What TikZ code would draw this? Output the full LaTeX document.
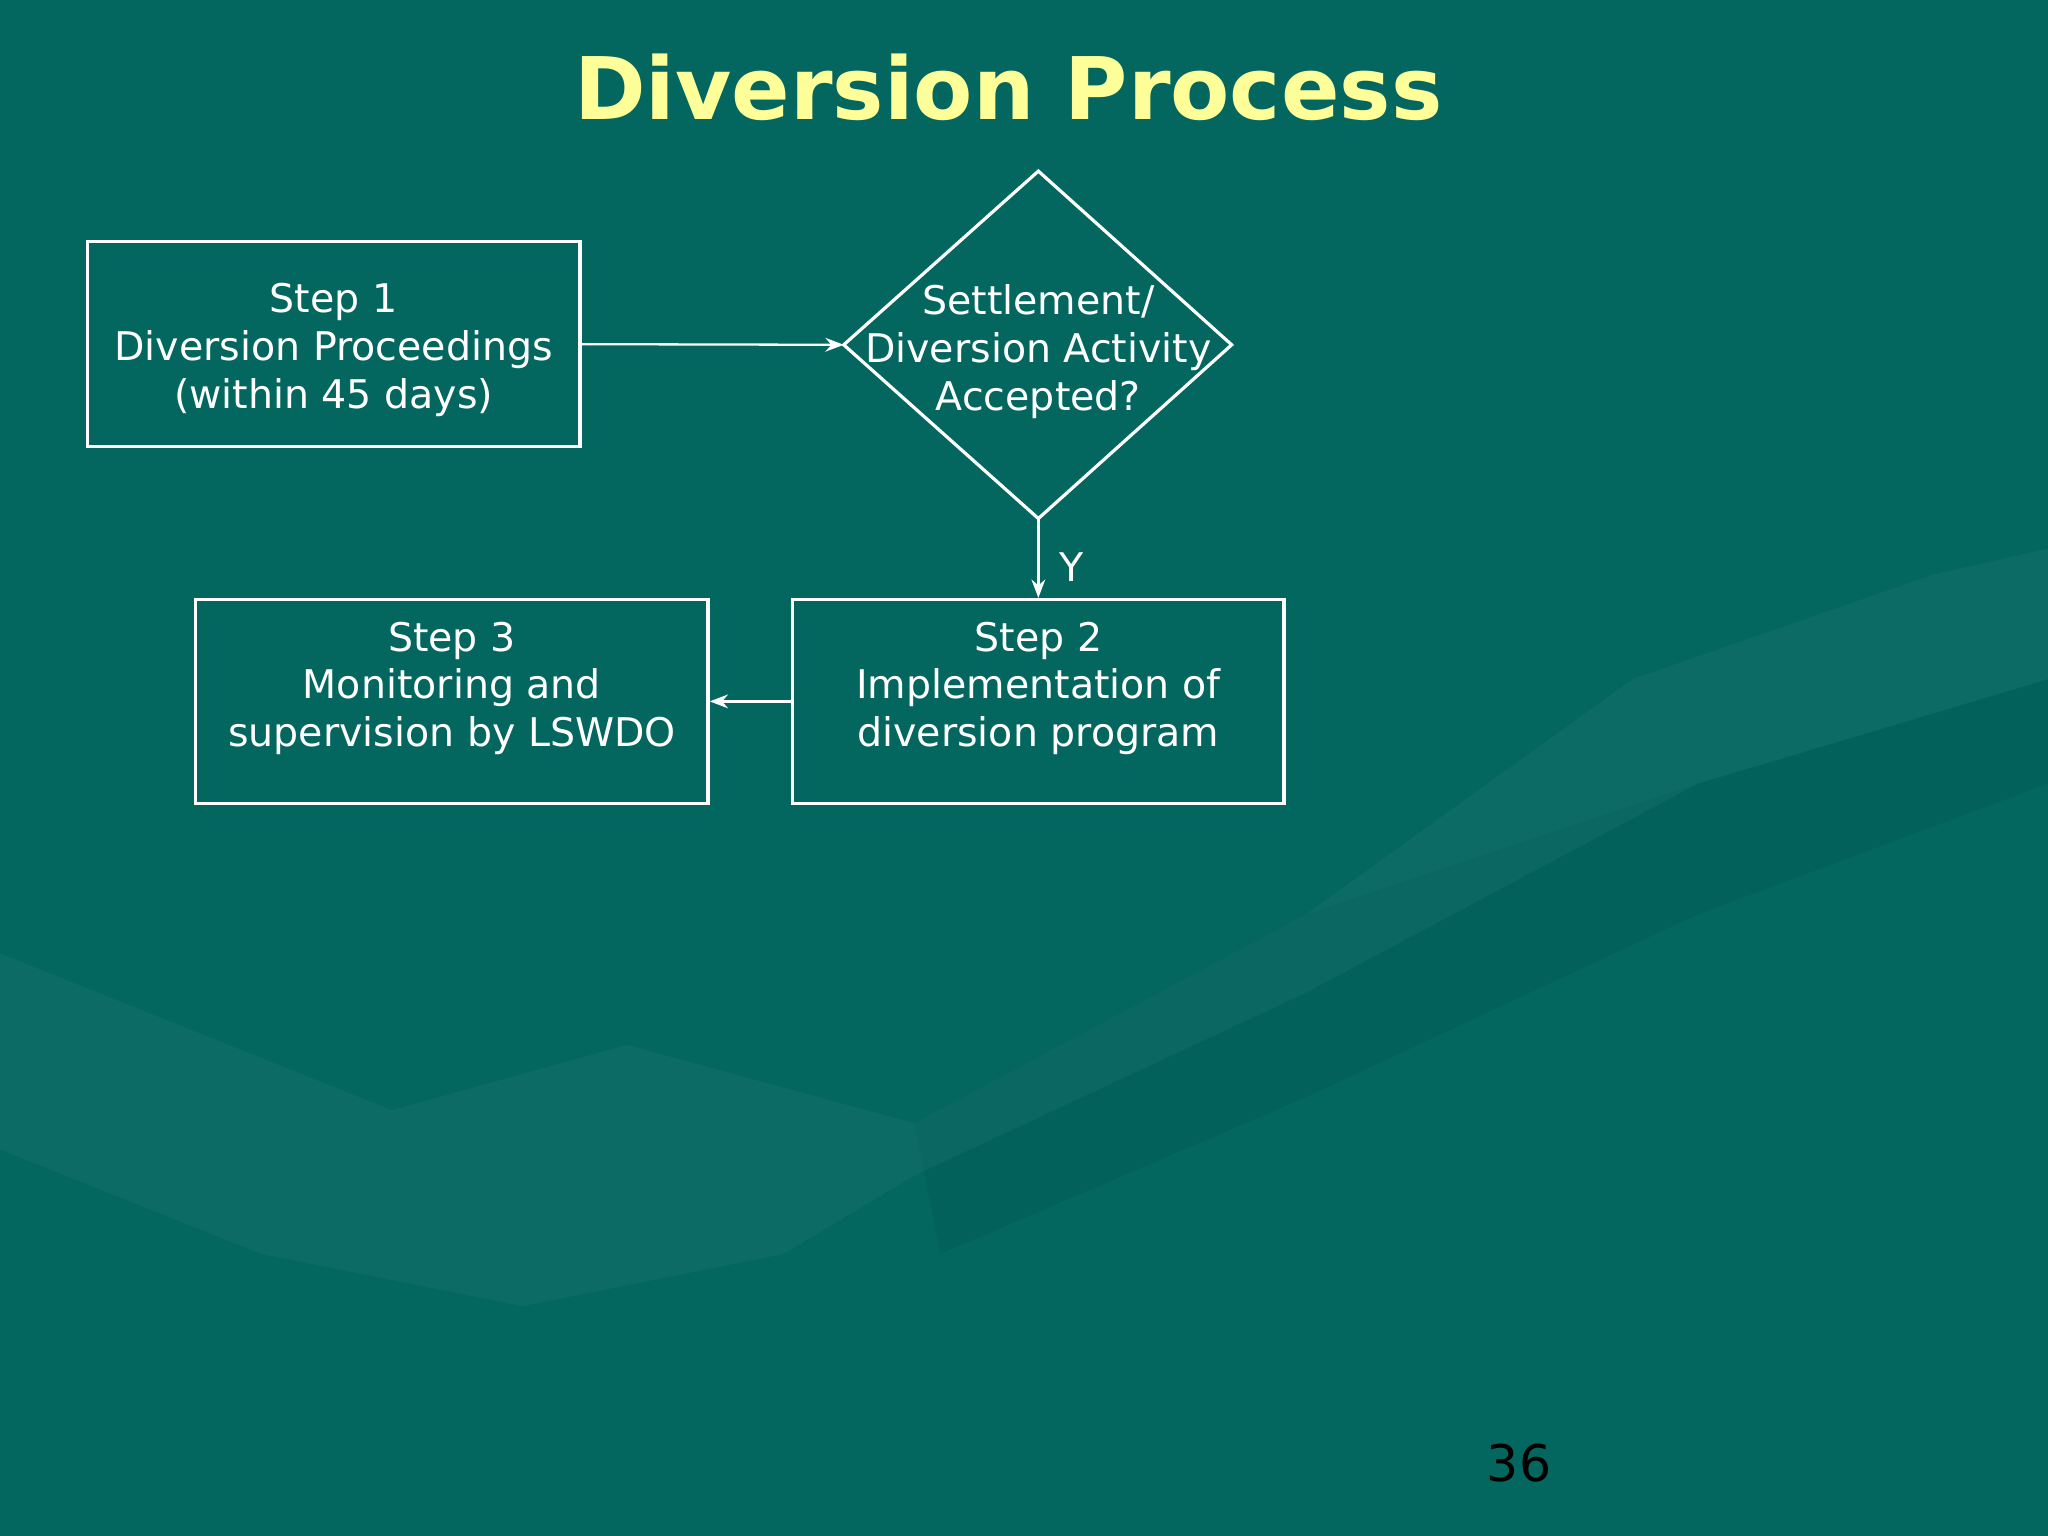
\documentclass[tikz,border=0pt]{standalone}
\usepackage{fontspec}
\setmainfont{DejaVu Sans}
\usetikzlibrary{shapes.geometric,arrows.meta}
\definecolor{bg}{HTML}{03665F}
\definecolor{ttl}{HTML}{FFFF99}
\begin{document}
\begin{tikzpicture}[x=0.01cm,y=-0.01cm,
  txt/.style={text=white,align=center,font=\fontsize{8.6}{10.4}\selectfont,inner sep=0pt},
  box/.style={txt,draw=white,line width=0.7pt,text depth=-5pt},
  arr/.style={draw=white,line width=0.5pt,-{Stealth[length=4pt,width=3pt]}}]
\fill[bg] (0,0) rectangle (1568,1176);
\useasboundingbox (0,0) rectangle (1568,1176);
% faint hands
\fill[white,opacity=0.04] (0,730) -- (150,790) -- (300,850) -- (480,800) -- (700,860) -- (1000,700) -- (1250,520) -- (1480,440) -- (1568,420) -- (1568,520) -- (1300,600) -- (1000,760) -- (700,900) -- (600,960) -- (400,1000) -- (200,960) -- (0,880) -- cycle;
\fill[black,opacity=0.04] (700,860) -- (1000,700) -- (1300,600) -- (1568,520) -- (1568,600) -- (1300,700) -- (1000,840) -- (720,960) -- cycle;
\node[font=\fontsize{18.8}{22}\bfseries\selectfont,text=ttl] (t) at (772,67) {Diversion Process};
\node[box,minimum width=3.77cm,minimum height=1.57cm] (s1) at (255.5,263.5) {};
\node[txt] (s1t) at (255.5,268) {Step 1\\Diversion Proceedings\\(within 45 days)};
\coordinate (dT) at (795,131);
\coordinate (dR) at (943,264);
\coordinate (dB) at (795,397);
\coordinate (dL) at (646,264);
\draw[white,line width=0.7pt] (dT) -- (dR) -- (dB) -- (dL) -- cycle;
\node[txt] (dt) at (795,269) {Settlement/\\Diversion Activity\\Accepted?};
\node[box,minimum width=3.76cm,minimum height=1.56cm] (s2) at (795,537) {};
\node[txt] (s2t) at (795,527) {Step 2\\Implementation of\\diversion program};
\node[box,minimum width=3.92cm,minimum height=1.56cm] (s3) at (346,537) {};
\node[txt] (s3t) at (346,527) {Step 3\\Monitoring and\\supervision by LSWDO};
\draw[arr] (s1.east) -- (dL);
\draw[arr] (dB) -- node[right,text=white,font=\fontsize{8.6}{10}\selectfont,xshift=1pt,yshift=-2pt]{Y} (s2.north);
\draw[arr] (s2.west) -- (s3.east);
\node[font=\fontsize{11}{13}\selectfont,text=black] (n) at (1163,1120) {36};
\end{tikzpicture}
\end{document}
